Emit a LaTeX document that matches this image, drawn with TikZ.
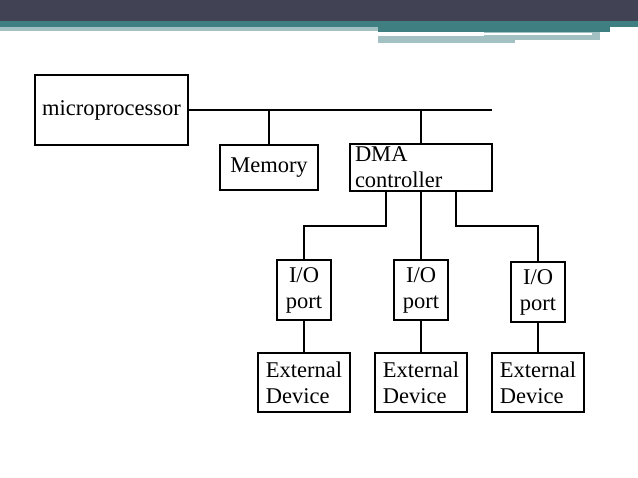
\documentclass[tikz,border=0pt]{standalone}
\usepackage{fontspec}
\setmainfont{Liberation Serif}
\definecolor{barDark}{HTML}{414254}
\definecolor{barTeal}{HTML}{3F7F82}
\definecolor{barLight}{HTML}{A3C0C2}
\tikzset{
  blk/.style={draw, line width=1pt, fill=white, inner sep=2pt, font=\fontsize{16}{18.5}\selectfont},
  wire/.style={line width=1.2pt}
}
\begin{document}
\begin{tikzpicture}[x=0.025cm,y=-0.025cm]
\useasboundingbox (0,0) rectangle (638,478);
% header bars
\fill[barDark] (0,0) rectangle (638,21);
\fill[barTeal] (0,21) rectangle (638,27);
\fill[barTeal] (378,27) rectangle (610,32);
\fill[barLight] (0,27) rectangle (378,31);
\fill[barLight] (378,36) rectangle (515,43);
\fill[barLight] (484,32) rectangle (600,40);
\fill[white] (378,33) rectangle (592,35);
% boxes
\node[blk, minimum width=153*0.025cm, minimum height=70*0.025cm] (cpu) at (111.5,110) {microprocessor};
\node[blk, minimum width=98*0.025cm, minimum height=45*0.025cm] (mem) at (269,167.5) {Memory};
\node[blk, minimum width=142*0.025cm, minimum height=45*0.025cm, align=left, text width=132*0.025cm] (dma) at (421,167.5) {DMA\\controller};
\foreach \n/\x/\y in {1/304/290, 2/421/290, 3/538/292}{
  \node[blk, minimum width=54*0.025cm, minimum height=60*0.025cm, align=center] (io\n) at (\x,\y) {I/O\\port};
}
\foreach \n/\x in {1/304, 2/421, 3/538}{
  \node[blk, minimum width=92*0.025cm, minimum height=59*0.025cm, align=left] (dev\n) at (\x,382.5) {External\\Device};
}
% bus
\coordinate (busend) at (492,110);
\draw[wire] (cpu.east) -- (busend);
\draw[wire] (mem.north) -- (mem.north |- busend);
\draw[wire] (dma.north) -- (dma.north |- busend);
% DMA to ports
\draw[wire] (386,190) |- (304,226) -- (io1.north);
\draw[wire] (dma.south) -- (io2.north);
\draw[wire] (456,190) |- (538,226) -- (io3.north);
\foreach \n in {1,2,3}{
  \draw[wire] (io\n.south) -- (dev\n.north);
}
\end{tikzpicture}
\end{document}
